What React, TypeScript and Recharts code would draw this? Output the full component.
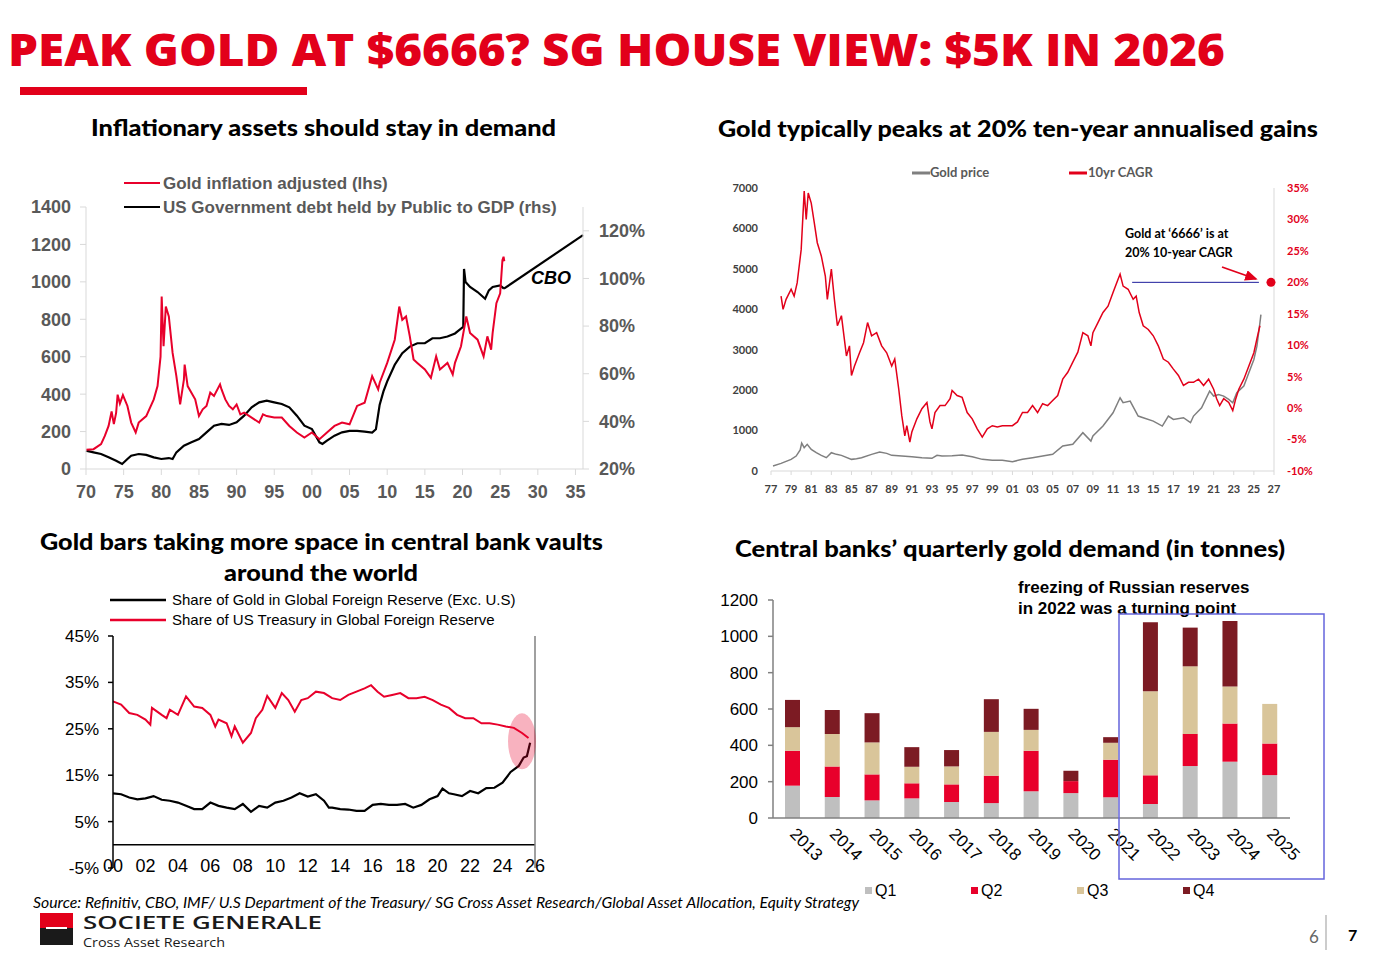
import React from "react";
import {
  LineChart,
  Line,
  XAxis,
  YAxis,
  BarChart,
  Bar,
  ReferenceLine,
  ReferenceDot,
} from "recharts";

// ---- Top-left: gold inflation adjusted (lhs) vs US debt / GDP (rhs, %) ----
const goldRealSeries: [number, number][] = [
  [1970, 103], [1971, 106], [1972, 133], [1972.5, 177], [1973, 230], [1973.4, 307], [1973.7, 240],
  [1974, 300], [1974.2, 397], [1974.5, 350], [1974.9, 395], [1975.5, 337], [1976, 248], [1976.6, 195],
  [1977, 248], [1978, 283], [1979, 372], [1979.5, 443], [1979.9, 600], [1980.05, 921], [1980.3, 656],
  [1980.6, 868], [1981, 815], [1981.5, 620], [1982, 496], [1982.5, 345], [1983, 478], [1983.1, 558],
  [1983.5, 443], [1984, 408], [1984.5, 372], [1985, 283], [1985.5, 319], [1986, 337], [1986.5, 408],
  [1987, 390], [1987.8, 452], [1988, 425], [1988.5, 372], [1989, 337], [1989.5, 319], [1990, 345],
  [1990.5, 292], [1991, 301], [1992, 275], [1993, 248], [1993.5, 292], [1994, 283], [1995, 275],
  [1996, 275], [1997, 230], [1998, 195], [1999, 168], [2000, 195], [2001, 159], [2002, 195],
  [2003, 230], [2004, 248], [2005, 239], [2006, 337], [2007, 354], [2008, 496], [2008.8, 425],
  [2009, 461], [2010, 567], [2011, 691], [2011.6, 868], [2012, 797], [2012.5, 815], [2013, 709],
  [2013.5, 585], [2014, 567], [2015, 532], [2015.8, 487], [2016.5, 602], [2017, 532], [2018, 567],
  [2018.7, 505], [2019, 567], [2019.8, 656], [2020.5, 815], [2021, 727], [2022, 691], [2022.8, 602],
  [2023.3, 709], [2023.8, 638], [2024, 727], [2024.5, 886], [2025, 939], [2025.3, 1116],
  [2025.45, 1134], [2025.55, 1110],
];

const debtGdpSeries: [number, number][] = [
  [1970, 27.7], [1971, 27], [1972, 26.3], [1973, 24.9], [1974, 23.5], [1974.8, 22.1], [1975.5, 24.2],
  [1976, 25.6], [1977, 26.3], [1978, 25.9], [1979, 24.9], [1980, 24.2], [1981, 24.6], [1981.5, 24.2],
  [1982, 27], [1983, 29.8], [1984, 31.2], [1985, 32.6], [1986, 35.4], [1987, 38.2], [1988, 38.9],
  [1989, 38.5], [1990, 39.6], [1991, 42.4], [1992, 45.9], [1993, 48], [1994, 48.7], [1995, 48],
  [1996, 47.3], [1997, 45.9], [1998, 42.4], [1999, 38.2], [2000, 36.8], [2001, 31.2], [2001.4, 30.5],
  [2002, 31.9], [2003, 34], [2004, 35.4], [2005, 36], [2006, 36], [2007, 35.7], [2008, 35.3],
  [2008.5, 36.7], [2009, 47], [2009.5, 52.6], [2010, 56.8], [2011, 63.8], [2012, 68.6], [2013, 71.4],
  [2014, 72.8], [2015, 72.8], [2016, 74.9], [2017, 74.9], [2018, 75.6], [2019, 76.9], [2020.1, 79.7],
  [2020.2, 104], [2020.4, 98.5], [2021, 96.4], [2022, 94.3], [2023, 91.5], [2023.5, 95], [2024, 96.4],
  [2025, 97.1], [2025.5, 95.7],
];

const cboSeries: [number, number][] = [[2025.5, 95.7], [2036, 118.2]];

const topLeftYearTicks = [1970, 1975, 1980, 1985, 1990, 1995, 2000, 2005, 2010, 2015, 2020, 2025, 2030, 2035];
const goldRealTicks = [0, 200, 400, 600, 800, 1000, 1200, 1400];
const debtTicks = [20, 40, 60, 80, 100, 120];

// ---- Top-right: gold price (lhs) and 10yr CAGR (rhs, %) ----
const goldPriceSeries: [number, number][] = [
  [1977.2, 124], [1978, 189], [1979, 288], [1979.5, 370], [1979.9, 520], [1980.05, 690], [1980.3, 576],
  [1980.6, 659], [1981, 535], [1981.5, 453], [1982, 387], [1982.5, 329], [1983, 453], [1983.5, 412],
  [1984, 387], [1985, 288], [1985.5, 305], [1986, 329], [1987, 412], [1987.8, 469], [1988.5, 436],
  [1989, 387], [1990, 370], [1991, 354], [1992, 329], [1993, 313], [1993.5, 387], [1994, 370],
  [1995, 379], [1996, 395], [1997, 354], [1998, 288], [1999, 264], [2000, 264], [2001, 231],
  [2002, 288], [2003, 329], [2004, 370], [2005, 412], [2006, 618], [2007, 659], [2008, 947],
  [2008.8, 741], [2009, 865], [2010, 1112], [2011, 1441], [2011.7, 1812], [2012, 1688], [2012.7, 1729],
  [2013.5, 1359], [2014, 1318], [2015, 1235], [2015.9, 1112], [2016.5, 1359], [2017, 1276],
  [2018, 1318], [2018.7, 1194], [2019, 1359], [2019.8, 1565], [2020.6, 1976], [2021, 1853],
  [2021.5, 1894], [2022, 1853], [2022.5, 1771], [2022.9, 1688], [2023.3, 1935], [2024, 2100],
  [2024.5, 2429], [2025, 2759], [2025.3, 3088], [2025.6, 3665], [2025.7, 3870],
];

const cagrSeries: [number, number][] = [
  [1978, 17.8], [1978.2, 15.7], [1978.5, 17.3], [1979, 18.9], [1979.3, 17.8], [1979.6, 19.9],
  [1980, 25.2], [1980.3, 34.5], [1980.5, 30], [1980.7, 34.2], [1981, 32.6], [1981.3, 29.5],
  [1981.6, 26.3], [1982, 24.2], [1982.4, 21], [1982.6, 17.3], [1983, 22.1], [1983.3, 17.3],
  [1983.6, 13.1], [1984, 14.7], [1984.5, 8.3], [1984.8, 9.9], [1985, 5.2], [1985.3, 6.7], [1985.8, 8.8],
  [1986.2, 10.4], [1986.6, 13.6], [1987, 11.5], [1987.5, 12], [1988, 9.9], [1988.5, 8.8], [1989, 6.7],
  [1989.3, 7.8], [1989.7, 3], [1990, -1.2], [1990.3, -4.4], [1990.5, -2.8], [1990.8, -5.4],
  [1991, -3.8], [1991.5, -1.7], [1992, -0.1], [1992.5, 0.9], [1992.8, -2.2], [1993, -3.3],
  [1993.3, -0.7], [1993.8, 0.4], [1994.3, 0.4], [1994.8, 1.5], [1995, 2.8], [1995.5, 2], [1996, 1.7],
  [1996.5, -0.7], [1997, -1.7], [1997.5, -3.3], [1998, -4.6], [1998.5, -3.3], [1999, -2.8],
  [1999.5, -3], [2000, -2.8], [2000.5, -2.8], [2001, -2.8], [2001.5, -2.2], [2002, -0.7],
  [2002.5, -0.7], [2003, 0.4], [2003.5, -0.7], [2004, 0.7], [2004.5, 0.4], [2005, 1.2], [2005.5, 2],
  [2006, 4.6], [2006.5, 5.7], [2007, 7.3], [2007.5, 8.9], [2008, 12], [2008.5, 11.5], [2008.8, 9.9],
  [2009, 12], [2009.5, 13.6], [2010, 15.2], [2010.5, 16.2], [2011, 18.4], [2011.5, 20.5],
  [2011.7, 21.3], [2012, 19.4], [2012.5, 18.9], [2013, 17.3], [2013.3, 17.8], [2013.6, 15.2],
  [2014, 13.1], [2014.5, 12.5], [2015, 11.5], [2015.5, 9.9], [2016, 7.8], [2016.5, 7.3], [2017, 6.2],
  [2017.5, 5.2], [2018, 3.6], [2018.5, 4.1], [2019, 4.1], [2019.5, 4.6], [2020, 3.6], [2020.5, 4.6],
  [2021, 3], [2021.3, 1.5], [2021.6, 0.4], [2022, 1.5], [2022.5, 0.9], [2022.9, -0.4], [2023.2, 1.5],
  [2023.5, 3], [2024, 4.6], [2024.5, 6.7], [2025, 8.8], [2025.3, 11], [2025.6, 13.1],
];

const topRightYearTicks = [
  1977, 1979, 1981, 1983, 1985, 1987, 1989, 1991, 1993, 1995, 1997, 1999, 2001, 2003, 2005, 2007,
  2009, 2011, 2013, 2015, 2017, 2019, 2021, 2023, 2025, 2027,
];
const goldPriceTicks = [0, 1000, 2000, 3000, 4000, 5000, 6000, 7000];
const cagrTicks = [-10, -5, 0, 5, 10, 15, 20, 25, 30, 35];

// ---- Bottom-left: share of gold / US treasuries in reserves (%) ----
const treasuryShareSeries: [number, number][] = [
  [2000, 30.9], [2000.5, 30.2], [2001, 28.4], [2001.5, 28], [2002, 27], [2002.3, 25.9], [2002.4, 29.5],
  [2003, 28], [2003.3, 27.3], [2003.5, 29.1], [2004, 28], [2004.5, 32], [2005, 29.8], [2005.5, 29.5],
  [2006, 28], [2006.3, 25.5], [2006.5, 27], [2007, 26.2], [2007.3, 23.4], [2007.5, 25.5], [2008, 22],
  [2008.5, 24.1], [2008.8, 27.3], [2009.2, 29.1], [2009.5, 32.1], [2010, 29.5], [2010.4, 32.7],
  [2010.8, 31.2], [2011.2, 28.7], [2011.6, 31.2], [2012, 31.6], [2012.5, 33], [2013, 32.7],
  [2013.5, 31.6], [2014, 31.2], [2014.5, 32.3], [2015, 33], [2015.5, 33.7], [2015.9, 34.4],
  [2016.3, 33], [2016.7, 31.9], [2017.2, 32.3], [2017.7, 32.7], [2018.2, 31.6], [2018.7, 31.6],
  [2019.2, 31.9], [2019.7, 31.2], [2020.2, 30.2], [2020.7, 29.5], [2021.2, 28], [2021.7, 27.3],
  [2022.2, 27.3], [2022.7, 26.2], [2023.2, 26.2], [2023.7, 25.9], [2024.2, 25.5], [2024.7, 25.2],
  [2025.2, 24.1], [2025.6, 23],
];

const goldShareSeries: [number, number][] = [
  [2000, 11.1], [2000.5, 10.9], [2001, 10.2], [2001.5, 9.8], [2002, 10], [2002.5, 10.5], [2003, 9.7],
  [2003.5, 9.5], [2004, 9.1], [2004.5, 8.4], [2005, 7.7], [2005.5, 7.7], [2006, 9.1], [2006.5, 8.4],
  [2007, 8], [2007.5, 7.7], [2008, 8.8], [2008.5, 7.1], [2009, 8.4], [2009.5, 8], [2010, 9.1],
  [2010.5, 9.5], [2011, 10.2], [2011.5, 11.1], [2012, 10.4], [2012.5, 10.9], [2013, 9.5], [2013.3, 8],
  [2013.5, 8], [2014, 7.7], [2014.5, 7.6], [2015, 7.3], [2015.5, 7.3], [2016, 8.6], [2016.5, 8.8],
  [2017, 8.6], [2017.5, 8.6], [2018, 8.8], [2018.5, 8], [2019, 8.6], [2019.5, 9.8], [2020, 10.5],
  [2020.3, 12.1], [2020.7, 11.1], [2021, 10.9], [2021.5, 10.5], [2022, 11.6], [2022.5, 11.1],
  [2023, 12.2], [2023.5, 12.3], [2024, 13.4], [2024.5, 15.7], [2025, 17], [2025.3, 18.8],
  [2025.5, 19.1], [2025.7, 22],
];

const reserveYearTicks = [2000, 2002, 2004, 2006, 2008, 2010, 2012, 2014, 2016, 2018, 2020, 2022, 2024, 2026];
const shareTicks = [-5, 5, 15, 25, 35, 45];

// ---- Bottom-right: central bank quarterly demand (tonnes) ----
const cbYears = ["2013", "2014", "2015", "2016", "2017", "2018", "2019", "2020", "2021", "2022", "2023", "2024", "2025"];
const cbQ1 = [178, 115, 97, 108, 88, 82, 147, 137, 114, 77, 286, 310, 236];
const cbQ2 = [192, 169, 143, 83, 97, 151, 223, 66, 207, 158, 177, 210, 174];
const cbQ3 = [130, 179, 176, 91, 99, 241, 115, 0, 93, 463, 372, 204, 218];
const cbQ4 = [150, 132, 161, 108, 90, 180, 116, 57, 31, 379, 213, 361, 0];
const cbTicks = [0, 200, 400, 600, 800, 1000, 1200];

const toPoints = (s: [number, number][]) => s.map(([x, v]) => ({ x, v }));
const yy = (v: number) => String(Math.round(v) % 100).padStart(2, "0");

const RED = "#e2001a";
const LINE_RED = "#e8002b";
const ARIAL = "'Liberation Sans', Arial, sans-serif";
const CAL = "Lato, 'Open Sans', sans-serif";

const cbData = cbYears.map((year, i) => ({
  year,
  idx: i + 0.5,
  q1: cbQ1[i],
  q2: cbQ2[i],
  q3: cbQ3[i],
  q4: cbQ4[i],
}));

function ReserveTick({ x, y, payload }: any) {
  return (
    <text x={x} y={y + 4} textAnchor="middle" fontSize={18} fontFamily={ARIAL} fill="#000">
      {yy(payload.value)}
    </text>
  );
}

function RotatedTick({ x, y, payload }: any) {
  return (
    <text
      x={x - 4}
      y={y + 17}
      transform={`rotate(45, ${x - 4}, ${y + 17})`}
      textAnchor="start"
      fontSize={17}
      fontFamily={ARIAL}
      fill="#000"
    >
      {payload.value}
    </text>
  );
}

function Ellipse(props: any) {
  return <ellipse cx={props.cx} cy={props.cy} rx={14} ry={28} fill="rgba(232,0,43,0.3)" />;
}

function Overlay() {
  return (
    <svg width={1390} height={960} style={{ position: "absolute", left: 0, top: 0, pointerEvents: "none" }}>
      {/* page title */}
      <text x={8} y={66} fontSize={44} fontWeight={800} fontFamily="'Open Sans', sans-serif" fill={RED}
        textLength={1217} lengthAdjust="spacingAndGlyphs">
        PEAK GOLD AT $6666? SG HOUSE VIEW: $5K IN 2026
      </text>
      <rect x={20} y={87} width={287} height={8} fill={RED} />

      {/* chart titles */}
      <g fontFamily={CAL} fontWeight={900} fontSize={22} fill="#000">
        <text x={91} y={136} textLength={465} lengthAdjust="spacingAndGlyphs">Inflationary assets should stay in demand</text>
        <text x={718} y={137} textLength={600} lengthAdjust="spacingAndGlyphs">Gold typically peaks at 20% ten-year annualised gains</text>
        <text x={40} y={550} textLength={563} lengthAdjust="spacingAndGlyphs">Gold bars taking more space in central bank vaults</text>
        <text x={224} y={581} textLength={194} lengthAdjust="spacingAndGlyphs">around the world</text>
        <text x={735} y={557} textLength={550} lengthAdjust="spacingAndGlyphs">Central banks’ quarterly gold demand (in tonnes)</text>
      </g>

      {/* legend top-left */}
      <line x1={124} x2={160} y1={183} y2={183} stroke={LINE_RED} strokeWidth={2} />
      <line x1={124} x2={160} y1={207} y2={207} stroke="#000" strokeWidth={2} />
      <g fontFamily={ARIAL} fontWeight={700} fontSize={17} fill="#595959">
        <text x={163} y={189}>Gold inflation adjusted (lhs)</text>
        <text x={163} y={213}>US Government debt held by Public to GDP (rhs)</text>
      </g>
      <text x={531} y={284} fontFamily={ARIAL} fontWeight={700} fontStyle="italic" fontSize={18} fill="#000">CBO</text>

      {/* legend top-right */}
      <line x1={912} x2={930} y1={173} y2={173} stroke="#7f7f7f" strokeWidth={3} />
      <line x1={1069} x2={1087} y1={173} y2={173} stroke={RED} strokeWidth={3} />
      <g fontFamily={CAL} fontWeight={700} fontSize={13} fill="#595959">
        <text x={930} y={177}>Gold price</text>
        <text x={1088} y={177}>10yr CAGR</text>
      </g>
      <g fontFamily={CAL} fontWeight={700} fontSize={12.5} fill="#000">
        <text x={1125} y={238}>Gold at ‘6666’ is at</text>
        <text x={1125} y={257}>20% 10-year CAGR</text>
      </g>
      <defs>
        <marker id="arr" markerWidth={8} markerHeight={8} refX={6} refY={3} orient="auto">
          <path d="M0,0 L7,3 L0,6 Z" fill={RED} />
        </marker>
      </defs>
      <line x1={1222} y1={267} x2={1256} y2={279} stroke={RED} strokeWidth={1.8} markerEnd="url(#arr)" />

      {/* legend bottom-left */}
      <line x1={110} x2={166} y1={600} y2={600} stroke="#000" strokeWidth={2.5} />
      <line x1={110} x2={166} y1={620} y2={620} stroke={LINE_RED} strokeWidth={2.5} />
      <g fontFamily={ARIAL} fontSize={15} fill="#000">
        <text x={172} y={605}>Share of Gold in Global Foreign Reserve (Exc. U.S)</text>
        <text x={172} y={625}>Share of US Treasury in Global Foreign Reserve</text>
      </g>

      {/* bottom-right annotation */}
      <g fontFamily={ARIAL} fontWeight={700} fontSize={17} fill="#000">
        <text x={1018} y={593}>freezing of Russian reserves</text>
        <text x={1018} y={614}>in 2022 was a turning point</text>
      </g>
      <rect x={1119} y={614} width={205} height={265} fill="none" stroke="#6464dc" strokeWidth={1.5} />
      <g fontFamily={ARIAL} fontSize={16} fill="#000">
        <rect x={865} y={887} width={7} height={7} fill="#bfbfbf" />
        <text x={875} y={896}>Q1</text>
        <rect x={971} y={887} width={7} height={7} fill={LINE_RED} />
        <text x={981} y={896}>Q2</text>
        <rect x={1077} y={887} width={7} height={7} fill="#d9c59a" />
        <text x={1087} y={896}>Q3</text>
        <rect x={1183} y={887} width={7} height={7} fill="#7c1b23" />
        <text x={1193} y={896}>Q4</text>
      </g>

      {/* footer */}
      <text x={33} y={908} fontFamily={CAL} fontStyle="italic" fontSize={14.5} fill="#000"
        textLength={826} lengthAdjust="spacingAndGlyphs">
        Source: Refinitiv, CBO, IMF/ U.S Department of the Treasury/ SG Cross Asset Research/Global Asset Allocation, Equity Strategy
      </text>
      <rect x={40} y={913} width={33} height={15} fill={RED} />
      <rect x={40} y={928} width={33} height={17} fill="#1a1a1a" />
      <rect x={46} y={927} width={21} height={2} fill="#fff" />
      <text x={83} y={929} fontFamily="'Open Sans', sans-serif" fontWeight={600} fontSize={17.5} fill="#1a1a1a"
        textLength={239} lengthAdjust="spacingAndGlyphs">SOCIETE GENERALE</text>
      <text x={83} y={947} fontFamily="'Open Sans', sans-serif" fontSize={13.5} fill="#1a1a1a"
        textLength={142} lengthAdjust="spacingAndGlyphs">Cross Asset Research</text>
      <text x={1309} y={943} fontFamily={CAL} fontSize={17} fill="#666">6</text>
      <line x1={1326} x2={1326} y1={915} y2={950} stroke="#999" strokeWidth={1} />
      <text x={1348} y={941} fontFamily={CAL} fontWeight={700} fontSize={16} fill="#000">7</text>
    </svg>
  );
}

export default function App() {
  const axisGrey = "#d9d9d9";
  return (
    <div style={{ position: "absolute", left: 0, top: 0, width: 1390, height: 960, background: "#fff", overflow: "hidden" }}>
      {/* Top-left */}
      <div style={{ position: "absolute", left: 0, top: 190 }}>
        <LineChart width={660} height={320} margin={{ top: 17, right: 0, bottom: 0, left: 0 }}>
          <XAxis
            dataKey="x"
            type="number"
            domain={[1970, 2036]}
            ticks={topLeftYearTicks}
            interval={0}
            tickFormatter={yy}
            height={41}
            stroke={axisGrey}
            tickSize={6}
            tickMargin={10}
            tick={{ fill: "#595959", fontSize: 18, fontWeight: 700, fontFamily: ARIAL }}
          />
          <YAxis
            yAxisId="l"
            width={86}
            domain={[0, 1400]}
            ticks={goldRealTicks}
            interval={0}
            stroke={axisGrey}
            tickSize={6}
            tickMargin={9}
            tick={{ fill: "#595959", fontSize: 18, fontWeight: 700, fontFamily: ARIAL }}
          />
          <YAxis
            yAxisId="r"
            orientation="right"
            width={77}
            domain={[20, 130]}
            ticks={debtTicks}
            interval={0}
            tickFormatter={(v) => `${v}%`}
            stroke={axisGrey}
            tickSize={6}
            tickMargin={10}
            tick={{ fill: "#595959", fontSize: 18, fontWeight: 700, fontFamily: ARIAL }}
          />
          <Line yAxisId="r" data={toPoints(debtGdpSeries)} dataKey="v" stroke="#000" strokeWidth={2.2} dot={false} isAnimationActive={false} />
          <Line yAxisId="r" data={toPoints(cboSeries)} dataKey="v" stroke="#000" strokeWidth={2.2} dot={false} isAnimationActive={false} />
          <Line yAxisId="l" data={toPoints(goldRealSeries)} dataKey="v" stroke={LINE_RED} strokeWidth={2} dot={false} isAnimationActive={false} />
        </LineChart>
      </div>

      {/* Top-right */}
      <div style={{ position: "absolute", left: 700, top: 170 }}>
        <LineChart width={650} height={330} margin={{ top: 18, right: 0, bottom: 0, left: 0 }}>
          <XAxis
            dataKey="x"
            type="number"
            domain={[1977, 2027]}
            ticks={topRightYearTicks}
            interval={0}
            tickFormatter={yy}
            height={29}
            stroke={axisGrey}
            tickSize={4}
            tickMargin={10}
            tick={{ fill: "#404040", fontSize: 11, fontWeight: 700, fontFamily: CAL }}
          />
          <YAxis
            yAxisId="l"
            width={71}
            domain={[0, 7000]}
            ticks={goldPriceTicks}
            interval={0}
            axisLine={false}
            tickLine={false}
            tickSize={0}
            tickMargin={13}
            tick={{ fill: "#404040", fontSize: 11, fontWeight: 700, fontFamily: CAL }}
          />
          <YAxis
            yAxisId="r"
            orientation="right"
            width={76}
            domain={[-10, 35]}
            ticks={cagrTicks}
            interval={0}
            tickFormatter={(v) => `${v}%`}
            stroke={axisGrey}
            tickLine={false}
            tickSize={0}
            tickMargin={13}
            tick={{ fill: RED, fontSize: 11, fontWeight: 700, fontFamily: CAL }}
          />
          <ReferenceLine
            yAxisId="r"
            segment={[{ x: 2012.9, y: 20 }, { x: 2025.5, y: 20 }]}
            stroke="#1c1c9c"
            strokeWidth={1}
          />
          <Line yAxisId="l" data={toPoints(goldPriceSeries)} dataKey="v" stroke="#7f7f7f" strokeWidth={1.5} dot={false} isAnimationActive={false} />
          <Line yAxisId="r" data={toPoints(cagrSeries)} dataKey="v" stroke={RED} strokeWidth={1.5} dot={false} isAnimationActive={false} />
          <ReferenceDot yAxisId="r" x={2026.7} y={20} r={4.5} fill={RED} stroke="none" />
        </LineChart>
      </div>

      {/* Bottom-left */}
      <div style={{ position: "absolute", left: 0, top: 620 }}>
        <LineChart width={600} height={280} margin={{ top: 16, right: 0, bottom: 0, left: 0 }}>
          <XAxis
            dataKey="x"
            type="number"
            domain={[2000, 2026]}
            ticks={reserveYearTicks}
            interval={0}
            height={32}
            axisLine={false}
            tickLine={false}
            tickSize={0}
            tickMargin={0}
            tick={<ReserveTick />}
          />
          <YAxis
            yAxisId="l"
            width={113}
            domain={[-5, 45]}
            ticks={shareTicks}
            interval={0}
            tickFormatter={(v) => `${v}%`}
            stroke="#000"
            strokeWidth={1.5}
            tickSize={5}
            tickMargin={9}
            tick={{ fill: "#000", fontSize: 17, fontFamily: ARIAL }}
          />
          <YAxis
            yAxisId="r"
            orientation="right"
            width={65}
            domain={[-5, 45]}
            ticks={shareTicks}
            interval={0}
            tickFormatter={(v) => `${v}%`}
            stroke="#808080"
            strokeWidth={1.5}
            tickSize={5}
            tickMargin={10}
            tick={{ fill: "#000", fontSize: 17, fontFamily: ARIAL }}
          />
          <ReferenceLine yAxisId="l" y={0} stroke="#000" strokeWidth={1.5} />
          <ReferenceDot yAxisId="l" x={2025.2} y={22.3} shape={<Ellipse />} />
          <Line yAxisId="l" data={toPoints(treasuryShareSeries)} dataKey="v" stroke={LINE_RED} strokeWidth={2} dot={false} isAnimationActive={false} />
          <Line yAxisId="l" data={toPoints(goldShareSeries)} dataKey="v" stroke="#000" strokeWidth={2.2} dot={false} isAnimationActive={false} />
        </LineChart>
      </div>

      {/* Bottom-right */}
      <div style={{ position: "absolute", left: 700, top: 585 }}>
        <BarChart width={620} height={300} data={cbData} margin={{ top: 15, right: 30, bottom: 0, left: 0 }} barSize={15}>
          <XAxis
            xAxisId="edges"
            dataKey="idx"
            type="number"
            domain={[0, 13]}
            ticks={[0, 1, 2, 3, 4, 5, 6, 7, 8, 9, 10, 11, 12, 13]}
            interval={0}
            allowDataOverflow
            height={0}
            axisLine={false}
            tick={false}
            tickLine={{ stroke: "#808080" }}
            tickSize={6}
          />
          <XAxis
            dataKey="year"
            height={67}
            stroke="#808080"
            strokeWidth={1.5}
            tickLine={false}
            tickSize={0}
            tickMargin={0}
            interval={0}
            tick={<RotatedTick />}
          />
          <YAxis
            width={73}
            domain={[0, 1200]}
            ticks={cbTicks}
            interval={0}
            stroke="#808080"
            strokeWidth={1.5}
            tickSize={5}
            tickMargin={10}
            tick={{ fill: "#000", fontSize: 17, fontFamily: ARIAL }}
          />
          <Bar dataKey="q1" stackId="a" fill="#bfbfbf" isAnimationActive={false} />
          <Bar dataKey="q2" stackId="a" fill={LINE_RED} isAnimationActive={false} />
          <Bar dataKey="q3" stackId="a" fill="#d9c59a" isAnimationActive={false} />
          <Bar dataKey="q4" stackId="a" fill="#7c1b23" isAnimationActive={false} />
        </BarChart>
      </div>

      <Overlay />
    </div>
  );
}
